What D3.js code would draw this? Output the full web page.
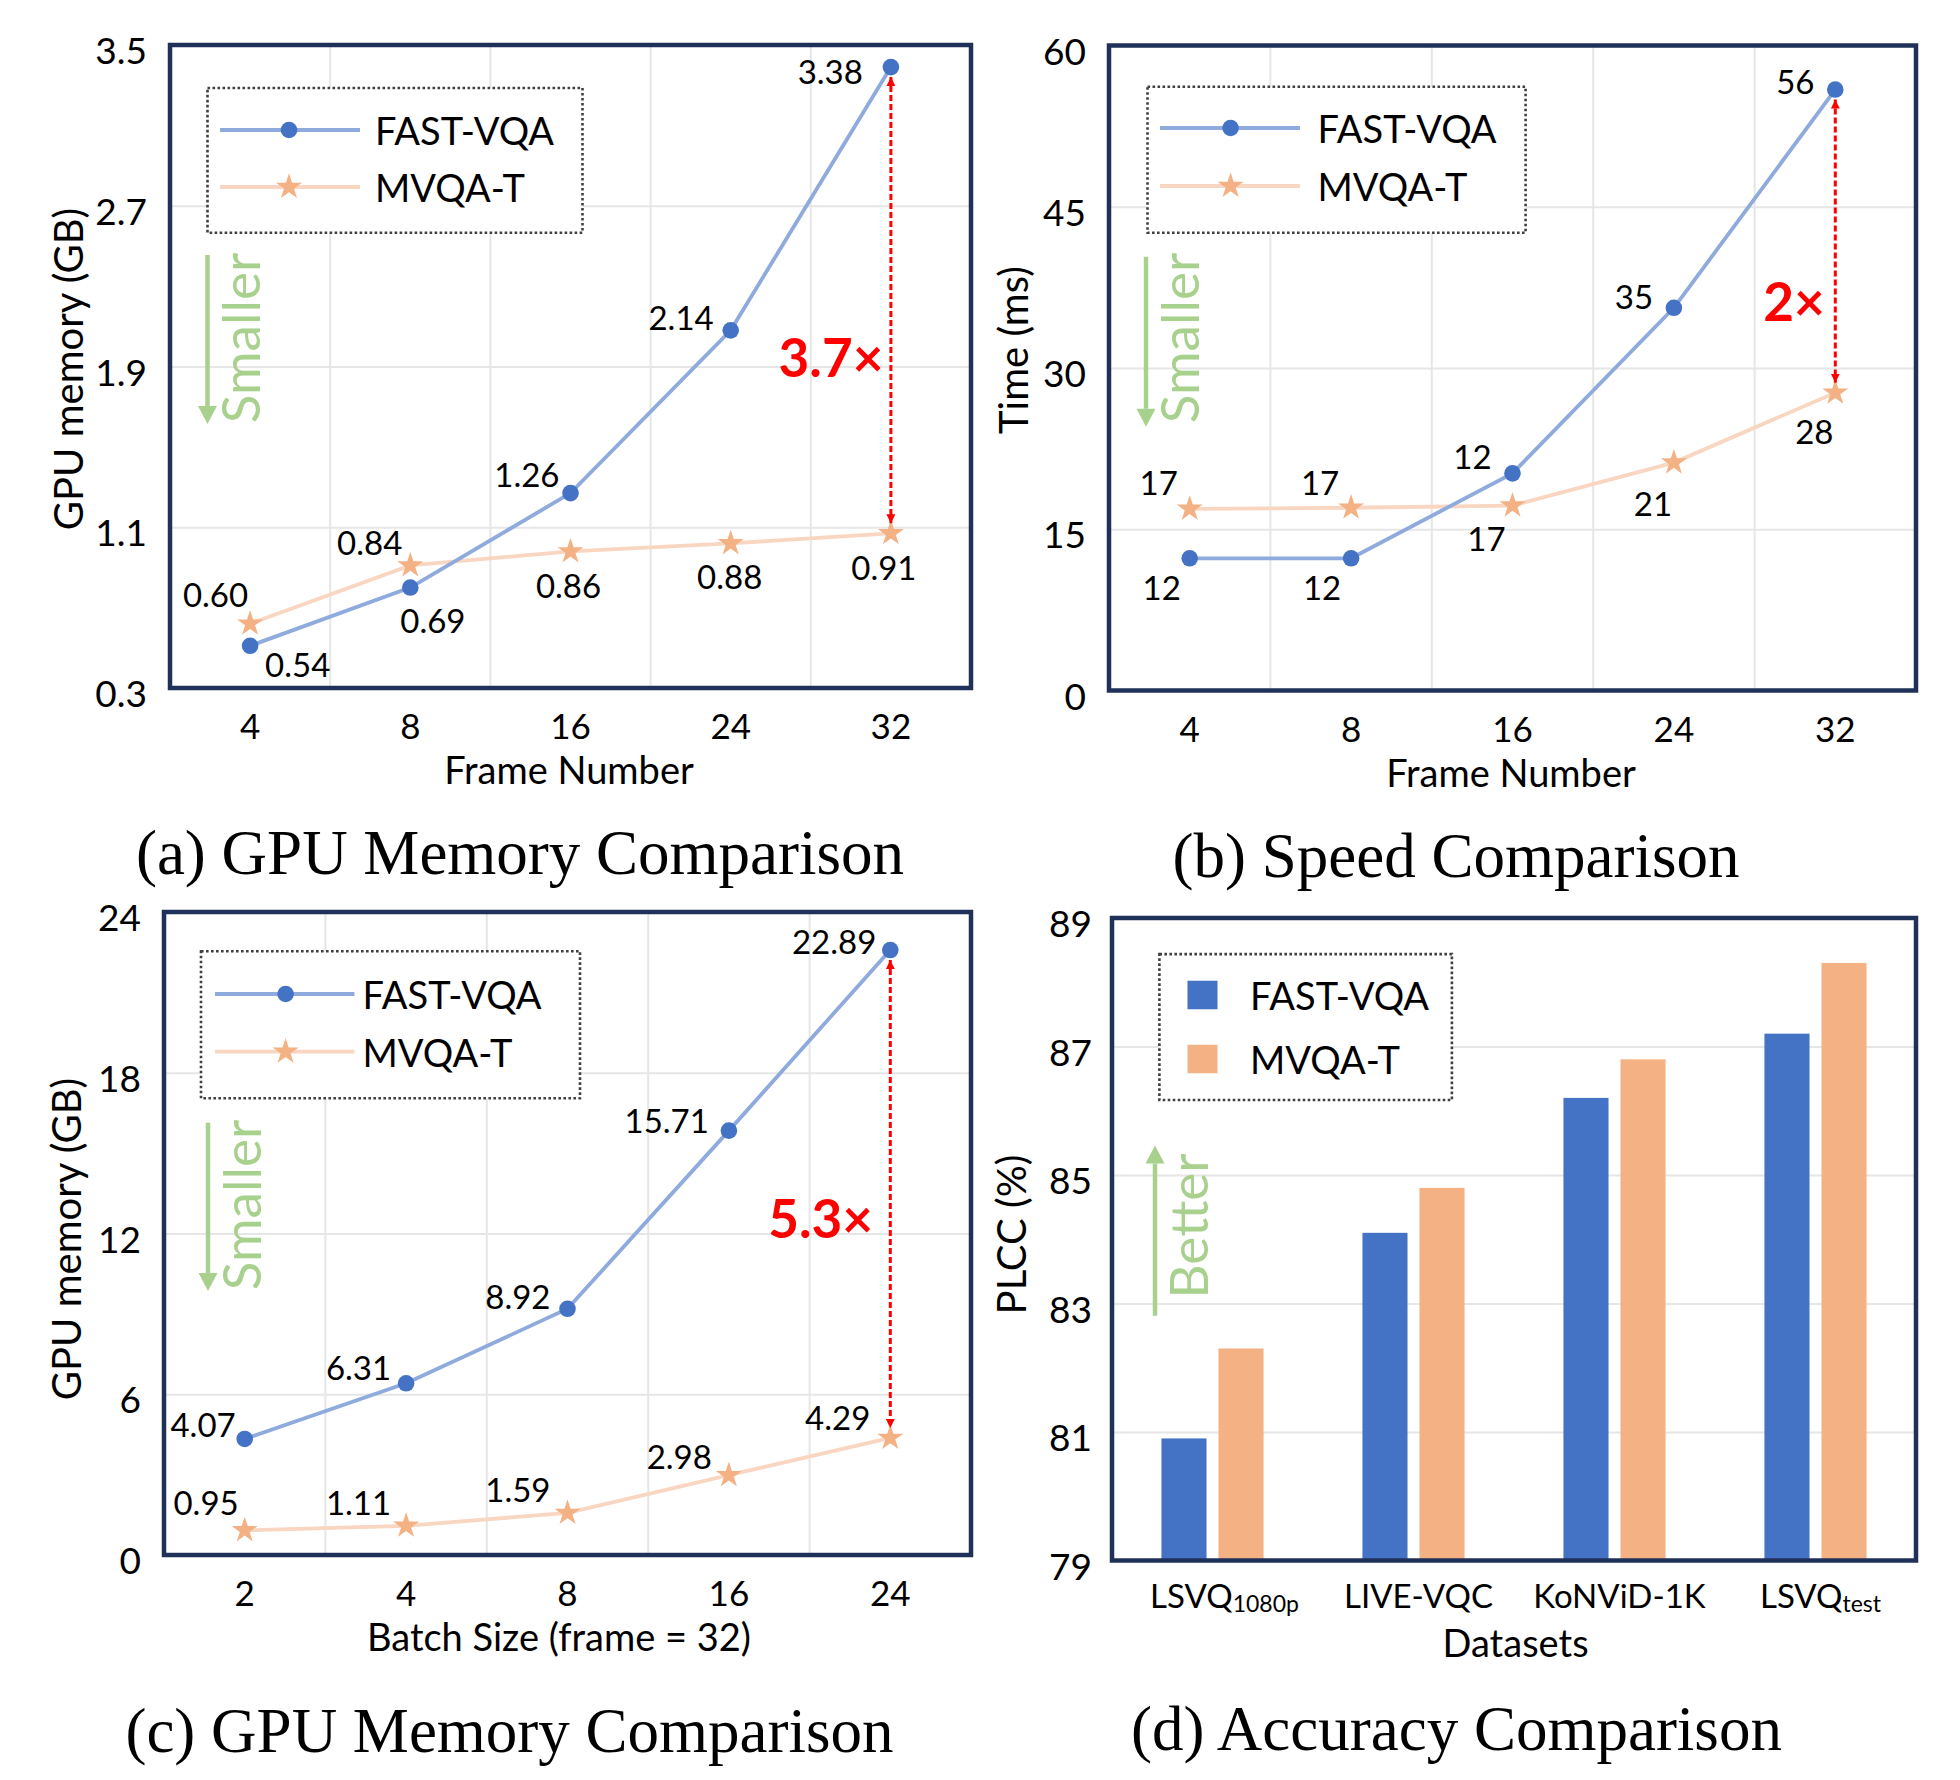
<!DOCTYPE html>
<html><head><meta charset="utf-8">
<script src="https://cdn.jsdelivr.net/npm/d3@7"></script>
<style>
html,body{margin:0;padding:0;background:#fff;}
</style></head><body>
<svg id="chart" width="1960" height="1780"></svg>
<script>
// ---------------- data ----------------
const seriesNames = ["FAST-VQA", "MVQA-T"];
const frameNumbers = ["4", "8", "16", "24", "32"];
const batchSizes = ["2", "4", "8", "16", "24"];
const datasets = ["LSVQ_1080p", "LIVE-VQC", "KoNViD-1K", "LSVQ_test"];

// (a) GPU memory vs frame number (plotted values read from point positions)
const memFast = [0.51, 0.80, 1.27, 2.08, 3.39];
const memMvqa = [0.62, 0.91, 0.98, 1.02, 1.07];
const memFastLabels = ["0.54", "0.69", "1.26", "2.14", "3.38"];
const memMvqaLabels = ["0.60", "0.84", "0.86", "0.88", "0.91"];
const memTicks = [0.3, 1.1, 1.9, 2.7, 3.5];

// (b) time vs frame number
const timeFast = [12.3, 12.3, 20.2, 35.6, 55.9];
const timeMvqa = [16.9, 17.0, 17.2, 21.2, 27.7];
const timeFastLabels = ["12", "12", "12", "35", "56"];
const timeMvqaLabels = ["17", "17", "17", "21", "28"];
const timeTicks = [0, 15, 30, 45, 60];

// (c) GPU memory vs batch size
const batchFast = [4.33, 6.41, 9.19, 15.84, 22.58];
const batchMvqa = [0.92, 1.09, 1.57, 2.98, 4.37];
const batchFastLabels = ["4.07", "6.31", "8.92", "15.71", "22.89"];
const batchMvqaLabels = ["0.95", "1.11", "1.59", "2.98", "4.29"];
const batchTicks = [0, 6, 12, 18, 24];

// (d) PLCC per dataset
const plccFast = [80.9, 84.1, 86.2, 87.2];
const plccMvqa = [82.3, 84.8, 86.8, 88.3];
const plccTicks = [79, 81, 83, 85, 87, 89];

// ---------------- styles ----------------
const FAST_LINE = "#8faadc", FAST_MARK = "#4472c4";
const MV_LINE = "#f9d6c1", MV_MARK = "#f4b183";
const FRAME = "#1f3158", GRID = "#e6e6e6", RED = "#ff0000", GREEN = "#a9d18e";
const SANS = "Lato, 'Open Sans', sans-serif";
const SERIF = "'Liberation Serif', 'Times New Roman', serif";

const svg = d3.select("#chart");
const defs = svg.append("defs");
defs.append("marker").attr("id", "redHead").attr("viewBox", "0 0 10 10")
  .attr("refX", 10).attr("refY", 5).attr("markerWidth", 9).attr("markerHeight", 9)
  .attr("markerUnits", "userSpaceOnUse").attr("orient", "auto-start-reverse")
  .append("path").attr("d", "M0,0 L10,5 L0,10 Z").attr("fill", RED);

// ---------------- layout ----------------
const linePanels = [
  {x0: 170, x1: 971, y0: 45, y1: 688, domain: [0.3, 3.5], ticks: memTicks, fmt: d3.format(".1f"),
   cats: frameNumbers, fast: memFast, mvqa: memMvqa, fastLab: memFastLabels, mvqaLab: memMvqaLabels,
   xTitle: "Frame Number", xTitleX: 569, yTitle: "GPU memory (GB)", yTitlePos: [67.5, 369],
   caption: "(a) GPU Memory Comparison", capPos: [520, 874],
   legend: {box: [207.5, 88, 582.5, 232.7], rows: [130, 187], line: [220, 360], marker: 289, text: 375},
   ind: {ax: 207.5, tail: 255, tip: 424, tx: 260, ty: 338, label: "Smaller"},
   ratio: {label: "3.7×", x: 831, y: 356},
   fastOff: [[15, 18, "start"], [-10, 32, "start"], [-11, -19, "end"], [-17, -13, "end"], [-28, 4, "end"]],
   mvqaOff: [[-2, -30, "end"], [-8, -23, "end"], [-2, 34, "middle"], [-1, 33, "middle"], [-7, 34, "middle"]]},
  {x0: 1109, x1: 1916, y0: 45.5, y1: 690.5, domain: [0, 60], ticks: timeTicks, fmt: d3.format("d"),
   cats: frameNumbers, fast: timeFast, mvqa: timeMvqa, fastLab: timeFastLabels, mvqaLab: timeMvqaLabels,
   xTitle: "Frame Number", xTitleX: 1511, yTitle: "Time (ms)", yTitlePos: [1012.5, 350],
   caption: "(b) Speed Comparison", capPos: [1456, 877],
   legend: {box: [1147.5, 86.8, 1525.6, 232.7], rows: [128, 186], line: [1160, 1300], marker: 1230.6, text: 1317.5},
   ind: {ax: 1146, tail: 256.7, tip: 426.7, tx: 1199, ty: 338, label: "Smaller"},
   ratio: {label: "2×", x: 1794, y: 300},
   fastOff: [[-28, 29, "middle"], [-29, 29, "middle"], [-40, -17, "middle"], [-40, -12, "middle"], [-40, -9, "middle"]],
   mvqaOff: [[-31, -27, "middle"], [-31, -26, "middle"], [-26, 32, "middle"], [-21, 40, "middle"], [-21, 38, "middle"]]},
  {x0: 164, x1: 971, y0: 912, y1: 1555, domain: [0, 24], ticks: batchTicks, fmt: d3.format("d"),
   cats: batchSizes, fast: batchFast, mvqa: batchMvqa, fastLab: batchFastLabels, mvqaLab: batchMvqaLabels,
   xTitle: "Batch Size (frame = 32)", xTitleX: 559, yTitle: "GPU memory (GB)", yTitlePos: [65.6, 1239],
   caption: "(c) GPU Memory Comparison", capPos: [509.5, 1752],
   legend: {box: [201, 951.3, 580, 1098.3], rows: [994, 1051.7], line: [215, 354.4], marker: 285.6, text: 362.5},
   ind: {ax: 208, tail: 1122.7, tip: 1291, tx: 260.5, ty: 1205, label: "Smaller"},
   ratio: {label: "5.3×", x: 820.6, y: 1217},
   fastOff: [[-9, -15, "end"], [-15, -16.5, "end"], [-17, -13, "end"], [-20, -11, "end"], [-14, -9, "end"]],
   mvqaOff: [[-6, -28, "end"], [-15, -24, "end"], [-17, -24, "end"], [-17, -19, "end"], [-20, -21, "end"]]}
];

const barPanel = {x0: 1112, x1: 1916, y0: 918, y1: 1560.5, domain: [79, 89], ticks: plccTicks,
  yTitle: "PLCC (%)", yTitlePos: [1011, 1234.5], xTitle: "Datasets", xTitleX: 1515.6,
  caption: "(d) Accuracy Comparison", capPos: [1456.5, 1750],
  legend: {box: [1159.4, 954.1, 1451.9, 1100], rows: [995, 1059], swatch: [1187.5, 30, 28.5], text: 1250},
  ind: {ax: 1155, tail: 1315.7, tip: 1145.4, tx: 1208, ty: 1226, label: "Better"}};

// ---------------- helpers ----------------
function yGridAndTicks(g, p, y, pad) {
  g.append("g").attr("transform", `translate(${p.x0},0)`)
    .call(d3.axisLeft(y).tickValues(p.ticks).tickSize(-(p.x1 - p.x0)).tickFormat(""))
    .call(s => { s.select(".domain").remove(); s.selectAll("line").attr("stroke", GRID).attr("stroke-width", 2); });
  g.append("g").attr("transform", `translate(${p.x0},0)`)
    .call(d3.axisLeft(y).tickValues(p.ticks).tickFormat(p.fmt || d3.format("d")).tickSize(0).tickPadding(pad))
    .call(s => {
      s.select(".domain").remove();
      s.selectAll("text").attr("dy", null).attr("y", 4).attr("dominant-baseline", "central")
        .attr("font-size", 37).attr("font-family", SANS).attr("fill", "#000");
    });
}

function titles(g, p) {
  g.append("text").attr("transform", `translate(${p.yTitlePos[0]},${p.yTitlePos[1]}) rotate(-90)`)
    .attr("text-anchor", "middle").attr("dominant-baseline", "central")
    .attr("font-size", 40).attr("font-family", SANS).attr("fill", "#000").text(p.yTitle);
  g.append("text").attr("x", p.xTitleX).attr("y", p.y1 + 81).attr("text-anchor", "middle")
    .attr("dominant-baseline", "central").attr("font-size", 38).attr("font-family", SANS).attr("fill", "#000").text(p.xTitle);
  g.append("text").attr("x", p.capPos[0]).attr("y", p.capPos[1]).attr("text-anchor", "middle")
    .attr("font-size", 63).attr("font-family", SERIF).attr("fill", "#000").text(p.caption);
}

function indicator(g, ind) {
  const dir = ind.tip > ind.tail ? 1 : -1;
  const headLen = 18, headW = 9.5;
  g.append("line").attr("x1", ind.ax).attr("x2", ind.ax).attr("y1", ind.tail).attr("y2", ind.tip - dir * headLen)
    .attr("stroke", GREEN).attr("stroke-width", 4.5);
  g.append("path").attr("d", `M${ind.ax - headW},${ind.tip - dir * headLen} L${ind.ax + headW},${ind.tip - dir * headLen} L${ind.ax},${ind.tip} Z`)
    .attr("fill", GREEN);
  g.append("text").attr("transform", `translate(${ind.tx},${ind.ty}) rotate(-90)`)
    .attr("text-anchor", "middle").attr("font-size", 53).attr("font-family", SANS)
    .attr("fill", GREEN).text(ind.label);
}

function frameRect(g, p) {
  g.append("rect").attr("x", p.x0).attr("y", p.y0).attr("width", p.x1 - p.x0).attr("height", p.y1 - p.y0)
    .attr("fill", "none").attr("stroke", FRAME).attr("stroke-width", 4.5);
}

function legendBox(g, L) {
  g.append("rect").attr("x", L.box[0]).attr("y", L.box[1]).attr("width", L.box[2] - L.box[0]).attr("height", L.box[3] - L.box[1])
    .attr("fill", "#fff").attr("stroke", "#404040").attr("stroke-width", 2.6).attr("stroke-dasharray", "2.6 2.4");
}

const star = d3.symbol().type(d3.symbolStar).size(210);

// ---------------- line panels ----------------
linePanels.forEach(p => {
  const g = svg.append("g");
  const x = d3.scaleBand().domain(p.cats).range([p.x0, p.x1]);
  const cx = d => x(d) + x.bandwidth() / 2;
  const y = d3.scaleLinear().domain(p.domain).range([p.y1, p.y0]);

  yGridAndTicks(g, p, y, 23);
  g.append("g").selectAll("line").data(p.cats.slice(1)).join("line")
    .attr("x1", d => x(d)).attr("x2", d => x(d)).attr("y1", p.y0).attr("y2", p.y1)
    .attr("stroke", GRID).attr("stroke-width", 2);

  g.append("g").attr("transform", `translate(0,${p.y1})`).call(d3.axisBottom(x).tickSize(0))
    .call(s => {
      s.select(".domain").remove();
      s.selectAll("text").attr("y", 37).attr("dy", null).attr("dominant-baseline", "central")
        .attr("font-size", 35).attr("font-family", SANS).attr("fill", "#000");
    });

  const mvPts = p.cats.map((c, i) => [cx(c), y(p.mvqa[i])]);
  const fastPts = p.cats.map((c, i) => [cx(c), y(p.fast[i])]);
  const line = d3.line();
  g.append("path").attr("d", line(mvPts)).attr("fill", "none").attr("stroke", MV_LINE).attr("stroke-width", 3.8);
  g.append("path").attr("d", line(fastPts)).attr("fill", "none").attr("stroke", FAST_LINE).attr("stroke-width", 3.8);
  g.append("g").selectAll("path").data(mvPts).join("path")
    .attr("transform", d => `translate(${d[0]},${d[1]})`).attr("d", star).attr("fill", MV_MARK);
  g.append("g").selectAll("circle").data(fastPts).join("circle")
    .attr("cx", d => d[0]).attr("cy", d => d[1]).attr("r", 8.3).attr("fill", FAST_MARK);

  frameRect(g, p);

  // data labels
  const lab = (pts, labels, offs) => g.append("g").selectAll("text").data(pts).join("text")
    .attr("x", (d, i) => d[0] + offs[i][0]).attr("y", (d, i) => d[1] + offs[i][1])
    .attr("text-anchor", (d, i) => offs[i][2]).attr("dominant-baseline", "central")
    .attr("font-size", 33).attr("font-family", SANS).attr("fill", "#000").text((d, i) => labels[i]);
  lab(fastPts, p.fastLab, p.fastOff);
  lab(mvPts, p.mvqaLab, p.mvqaOff);

  // ratio arrow
  const last = p.cats.length - 1;
  g.append("line").attr("x1", cx(p.cats[last])).attr("x2", cx(p.cats[last]))
    .attr("y1", y(p.fast[last]) + 10).attr("y2", y(p.mvqa[last]) - 10)
    .attr("stroke", RED).attr("stroke-width", 3).attr("stroke-dasharray", "6 3")
    .attr("marker-start", "url(#redHead)").attr("marker-end", "url(#redHead)");
  g.append("text").attr("x", p.ratio.x).attr("y", p.ratio.y).attr("text-anchor", "middle")
    .attr("dominant-baseline", "central").attr("font-size", 53).attr("font-weight", "bold")
    .attr("font-family", SANS).attr("fill", RED).text(p.ratio.label);

  // legend
  const L = p.legend;
  legendBox(g, L);
  const lg = g.append("g");
  [[FAST_LINE, FAST_MARK, "circle"], [MV_LINE, MV_MARK, "star"]].forEach((s, i) => {
    lg.append("line").attr("x1", L.line[0]).attr("x2", L.line[1]).attr("y1", L.rows[i]).attr("y2", L.rows[i])
      .attr("stroke", s[0]).attr("stroke-width", 3.8);
    if (s[2] === "circle") lg.append("circle").attr("cx", L.marker).attr("cy", L.rows[i]).attr("r", 8.3).attr("fill", s[1]);
    else lg.append("path").attr("transform", `translate(${L.marker},${L.rows[i]})`).attr("d", star).attr("fill", s[1]);
    lg.append("text").attr("x", L.text).attr("y", L.rows[i]).attr("dominant-baseline", "central")
      .attr("font-size", 38).attr("font-family", SANS).attr("fill", "#000").text(seriesNames[i]);
  });

  indicator(g, p.ind);
  titles(g, p);
});

// ---------------- bar panel ----------------
(function () {
  const p = barPanel;
  const g = svg.append("g");
  const x = d3.scaleBand().domain(datasets).range([p.x0, p.x1]);
  const bw = x.bandwidth();
  const xi = d3.scaleBand().domain(seriesNames).range([bw * 0.246, bw * 0.754]).paddingInner(0.21);
  const y = d3.scaleLinear().domain(p.domain).range([p.y1, p.y0]);

  yGridAndTicks(g, p, y, 20);

  const rows = datasets.map((d, i) => ({d, vals: [plccFast[i], plccMvqa[i]]}));
  const colors = [FAST_MARK, MV_MARK];
  g.append("g").selectAll("g").data(rows).join("g").attr("transform", r => `translate(${x(r.d)},0)`)
    .selectAll("rect").data(r => r.vals.map((v, k) => ({v, k}))).join("rect")
    .attr("x", e => xi(seriesNames[e.k])).attr("width", xi.bandwidth())
    .attr("y", e => y(e.v)).attr("height", e => p.y1 - y(e.v)).attr("fill", e => colors[e.k]);

  frameRect(g, p);

  // category labels with subscripts
  g.append("g").attr("transform", `translate(0,${p.y1})`).call(d3.axisBottom(x).tickSize(0).tickFormat(""))
    .call(s => s.select(".domain").remove());
  const cl = g.append("g").selectAll("text").data(datasets).join("text")
    .attr("x", (d, i) => x(d) + bw / 2 + (i === 0 ? 12 : 5)).attr("y", p.y1 + 34).attr("text-anchor", "middle")
    .attr("dominant-baseline", "central").attr("font-size", 33).attr("font-family", SANS).attr("fill", "#000");
  cl.each(function (d) {
    const parts = d.split("_");
    const t = d3.select(this);
    t.append("tspan").text(parts[0]);
    if (parts[1]) t.append("tspan").attr("font-size", 23).attr("dy", 8).text(parts[1]);
  });

  const L = p.legend;
  legendBox(g, L);
  colors.forEach((c, i) => {
    g.append("rect").attr("x", L.swatch[0]).attr("y", L.rows[i] - L.swatch[2] / 2)
      .attr("width", L.swatch[1]).attr("height", L.swatch[2]).attr("fill", c);
    g.append("text").attr("x", L.text).attr("y", L.rows[i]).attr("dominant-baseline", "central")
      .attr("font-size", 38).attr("font-family", SANS).attr("fill", "#000").text(seriesNames[i]);
  });

  indicator(g, p.ind);
  titles(g, p);
})();
</script>
</body></html>
